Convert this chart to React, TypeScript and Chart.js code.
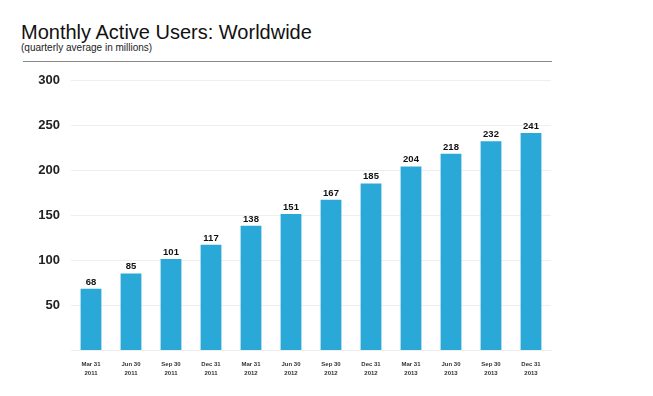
import React, { useEffect, useRef } from "react";
import { Chart, registerables } from "chart.js";

Chart.register(...registerables);

const categories: string[][] = [
  ["Mar 31", "2011"], ["Jun 30", "2011"], ["Sep 30", "2011"], ["Dec 31", "2011"],
  ["Mar 31", "2012"], ["Jun 30", "2012"], ["Sep 30", "2012"], ["Dec 31", "2012"],
  ["Mar 31", "2013"], ["Jun 30", "2013"], ["Sep 30", "2013"], ["Dec 31", "2013"],
];
const users: number[] = [68, 85, 101, 117, 138, 151, 167, 185, 204, 218, 232, 241];
const yTicks: number[] = [50, 100, 150, 200, 250, 300];

const TITLE = "Monthly Active Users: Worldwide";
const SUBTITLE = "(quarterly average in millions)";
const FONT = "'Liberation Sans', Arial, Helvetica, sans-serif";

const valueLabels = {
  id: "valueLabels",
  afterDatasetsDraw(chart: any) {
    const ctx = chart.ctx;
    const meta = chart.getDatasetMeta(0);
    ctx.save();
    ctx.font = `bold 9.5px ${FONT}`;
    ctx.fillStyle = "#111";
    ctx.textAlign = "center";
    ctx.textBaseline = "bottom";
    meta.data.forEach((bar: any, i: number) => {
      ctx.fillText(String(chart.data.datasets[0].data[i]), bar.x, bar.y - 2);
    });
    ctx.restore();
  },
};

export default function App() {
  const ref = useRef<HTMLCanvasElement | null>(null);
  useEffect(() => {
    if (!ref.current) return;
    const chart = new Chart(ref.current, {
      type: "bar",
      data: {
        labels: categories,
        datasets: [
          {
            data: users,
            backgroundColor: "#2aa9d8",
            borderWidth: 0,
            barPercentage: 0.52,
            categoryPercentage: 1,
          },
        ],
      },
      options: {
        responsive: false,
        animation: false,
        layout: { padding: { top: 80, left: 0, right: 102, bottom: 0 } },
        plugins: { legend: { display: false }, tooltip: { enabled: false }, title: { display: false } },
        scales: {
          x: {
            grid: { display: false, drawTicks: false },
            border: { display: true, color: "#eeeeee" },
            ticks: {
              padding: 10,
              color: "#333",
              font: { family: FONT, size: 6, weight: "bold", lineHeight: 1.45 },
              maxRotation: 0,
              autoSkip: false,
            },
            afterFit: (s: any) => { s.height = 46; },
          },
          y: {
            min: 0,
            max: 300,
            afterBuildTicks: (s: any) => { s.ticks = yTicks.map((v) => ({ value: v })); },
            grid: { color: "#eeeeee", drawTicks: false, lineWidth: 1 },
            border: { display: false },
            ticks: {
              padding: 11,
              color: "#222",
              font: { family: FONT, size: 13, weight: "bold" },
            },
            afterFit: (s: any) => { s.width = 71; },
          },
        },
      },
      plugins: [valueLabels],
    });
    return () => chart.destroy();
  }, []);

  return (
    <div style={{ position: "absolute", left: 0, top: 0, width: 653, height: 396, background: "#fff", fontFamily: FONT }}>
      <div style={{ position: "absolute", left: 21, top: 21, fontSize: 20, color: "#111", whiteSpace: "nowrap", lineHeight: "23px" }}>
        {TITLE}
      </div>
      <div style={{ position: "absolute", left: 21, top: 42, fontSize: 10, color: "#222", whiteSpace: "nowrap", lineHeight: "12px" }}>
        {SUBTITLE}
      </div>
      <div style={{ position: "absolute", left: 23, top: 61, width: 529, height: 1, background: "#888" }} />
      <canvas ref={ref} width={653} height={396} style={{ position: "absolute", left: 0, top: 0 }} />
    </div>
  );
}
